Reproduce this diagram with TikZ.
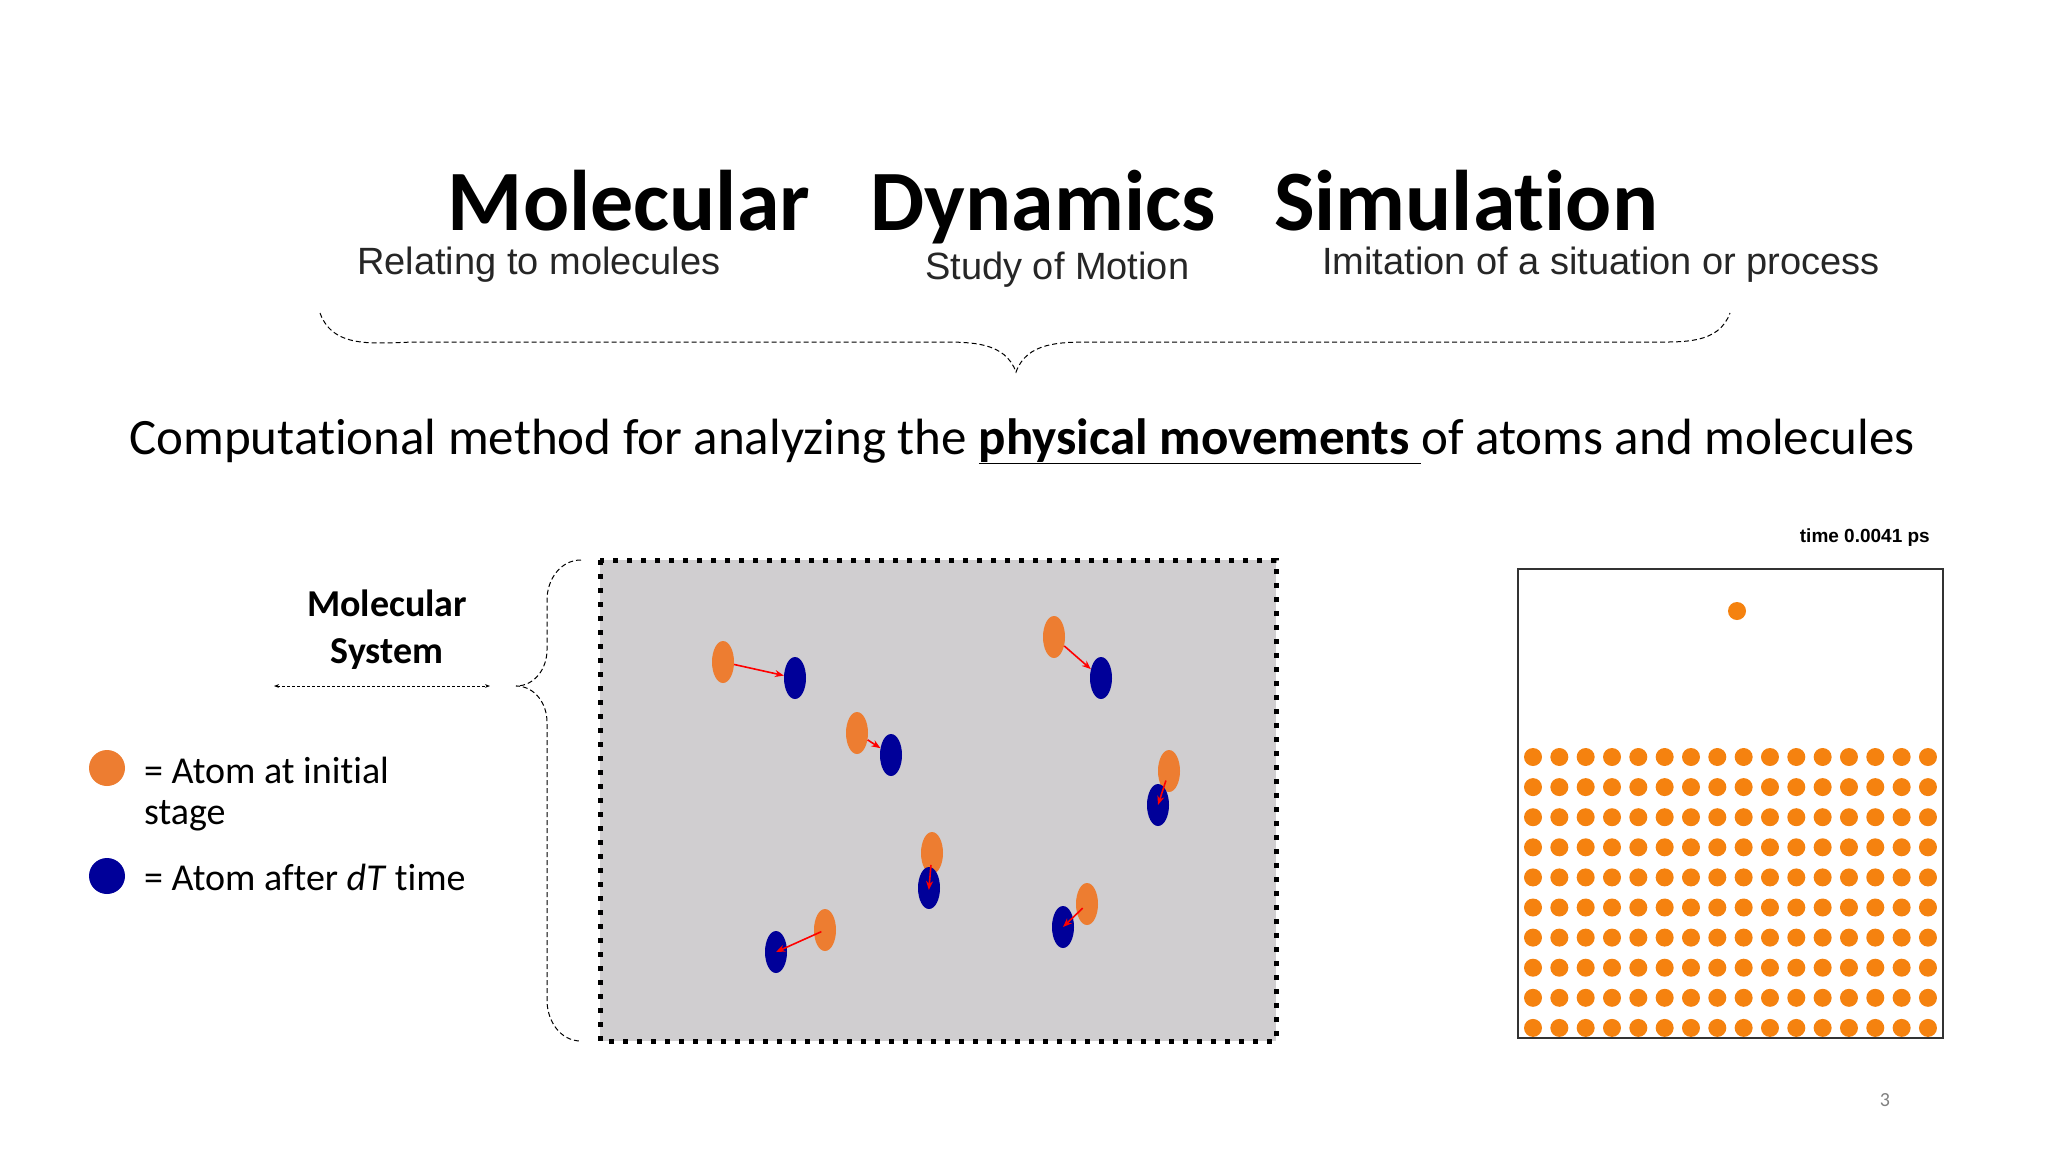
\documentclass[tikz,border=0pt]{standalone}
\usepackage{fontspec}
\setmainfont{Carlito}[Ligatures=NoCommon]
\newfontfamily\arialf{Liberation Sans}
\usetikzlibrary{arrows.meta,shapes.geometric}
\definecolor{atomO}{RGB}{237,125,49}
\definecolor{atomB}{RGB}{0,0,153}
\definecolor{gridO}{RGB}{245,130,15}
\definecolor{boxgray}{RGB}{208,206,208}
\tikzset{
 title/.style={font=\fontsize{86}{96}\selectfont\bfseries, inner sep=0, anchor=base},
 sub/.style={font=\arialf\fontsize{38}{42}\selectfont, text=black!85, inner sep=0},
 body/.style={font=\fontsize{38}{44}\selectfont, inner sep=0, anchor=west},
 oatom/.style={ellipse, fill=atomO, minimum width=22pt, minimum height=42pt, inner sep=0},
 batom/.style={ellipse, fill=atomB, minimum width=22pt, minimum height=42pt, inner sep=0},
 arr/.style={red, line width=1.6pt, -{Stealth[length=9pt,width=7pt]}},
 brace/.style={dashed, line width=1pt, dash pattern=on 5pt off 3pt},
 gdot/.style={circle, fill=gridO, minimum size=18pt, inner sep=0},
}
\begin{document}
\begin{tikzpicture}[x=1pt,y=-1pt]
\useasboundingbox[fill=white] (0,0) rectangle (2048,1152);
% title
\node[title] (t1) at (629,230) {Molecular};
\node[title] (t2) at (1043,230) {Dynamics};
\node[title] (t3) at (1466,230) {Simulation};
\node[sub, anchor=base west] (s1) at (357,274) {Relating to molecules};
\node[sub, anchor=base west] (s2) at (925,279) {Study of Motion};
\node[sub, anchor=base west] (s3) at (1322,274) {Imitation of a situation or process};
% brace
\draw[brace] (320,313) to[out=-70,in=180] (420,342) -- (940,342) to[out=0,in=110] (1016,372)
  to[out=70,in=180] (1092,342) -- (1650,342) to[out=0,in=-110] (1730,313);
% sentence
\node[font=\fontsize{51}{58}\selectfont, inner sep=0, anchor=base] (sent) at (1022,454)
 {Computational method for analyzing the \underline{\textbf{physical movements }}of atoms and molecules};
% left part
\node[font=\fontsize{38}{47}\selectfont\bfseries, align=center, inner sep=0] (ms) at (387,630) {Molecular\\System};
\coordinate (la) at (274,686);
\coordinate (lb) at (490,686);
\draw[dashed, line width=0.9pt, dash pattern=on 3pt off 2pt, {Stealth[length=5pt]}-{Stealth[length=5pt]}] (la) -- (lb);
\node[circle, fill=atomO, minimum size=36pt, inner sep=0] (lo) at (107,768) {};
\node[circle, fill=atomB, minimum size=36pt, inner sep=0] (lbl) at (107,876) {};
\node[body] (l1) at (144,770) {= Atom at initial};
\node[body] (l2) at (144,816) {stage};
\node[body] (l3) at (144,877) {= Atom after \textit{dT} time};
% box
\draw[brace] (581,560) to[out=180,in=90] (547,600) -- (547,650) to[out=-90,in=0] (516,686)
  to[out=0,in=90] (547,722) -- (547,1000) to[out=-90,in=180] (581,1041);
\fill[boxgray] (600,560) rectangle (1276,1041);
\draw[line width=5pt, dash pattern=on 5pt off 9pt] (600,560) rectangle (1276,1041);
\node[oatom] (o1) at (723,662) {};
\node[oatom] (o2) at (1054,637) {};
\node[oatom] (o3) at (857,733) {};
\node[oatom] (o4) at (1169,771) {};
\node[oatom] (o5) at (932,853) {};
\node[oatom] (o6) at (825,930) {};
\node[oatom] (o7) at (1087,904) {};
\node[batom] (b1) at (795,678) {};
\node[batom] (b2) at (1101,678) {};
\node[batom] (b3) at (891,755) {};
\node[batom] (b4) at (1158,805) {};
\node[batom] (b5) at (929,888) {};
\node[batom] (b6) at (776,952) {};
\node[batom] (b7) at (1063,927) {};
\draw[arr] (o1) -- (b1);
\draw[arr] (o2) -- (b2);
\draw[arr] (o3) -- (b3);
\draw[arr, shorten <=10pt] (o4.center) -- (b4.center);
\draw[arr, shorten <=12pt, shorten >=-2pt] (o5.center) -- (b5.center);
\draw[arr, shorten <=4pt] (o6.center) -- (b6.center);
\draw[arr, shorten <=6pt] (o7.center) -- (b7.center);
% right panel
\node[font=\arialf\fontsize{19}{22}\selectfont\bfseries, anchor=east, inner sep=0] (time) at (1930,538) {time 0.0041 ps};
\draw[line width=1.3pt, black!80] (1518,569) rectangle (1943,1038);
\node[gdot] (lone) at (1737,611) {};
\foreach \i in {0,...,15}{
  \foreach \j in {0,...,9}{
    \node[gdot] (g\i-\j) at ({1533+\i*26.33},{757+\j*30.1}) {};
  }
}
\node[font=\fontsize{20}{24}\selectfont, text=black!50, inner sep=0] (pg) at (1885,1100) {3};
\end{tikzpicture}
\end{document}
